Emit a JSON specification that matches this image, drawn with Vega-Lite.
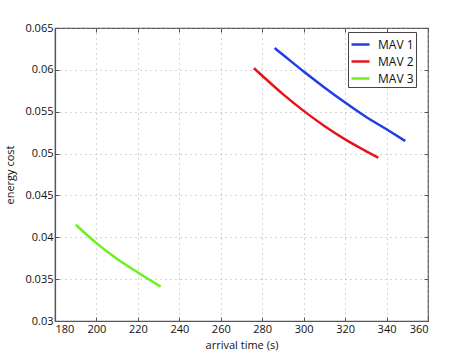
{
  "$schema": "https://vega.github.io/schema/vega-lite/v6.json",
  "width": 373,
  "height": 293,
  "autosize": "none",
  "padding": {"left": 55, "top": 28, "right": 46, "bottom": 34},
  "background": "white",
  "data": {
    "values": [
      {"t": 286, "c": 0.0626, "s": "MAV 1"},
      {"t": 290, "c": 0.0618, "s": "MAV 1"},
      {"t": 300, "c": 0.0598, "s": "MAV 1"},
      {"t": 310, "c": 0.0579, "s": "MAV 1"},
      {"t": 320, "c": 0.0561, "s": "MAV 1"},
      {"t": 330, "c": 0.0544, "s": "MAV 1"},
      {"t": 340, "c": 0.0529, "s": "MAV 1"},
      {"t": 349, "c": 0.0515, "s": "MAV 1"},
      {"t": 276, "c": 0.0602, "s": "MAV 2"},
      {"t": 280, "c": 0.0593, "s": "MAV 2"},
      {"t": 290, "c": 0.0571, "s": "MAV 2"},
      {"t": 300, "c": 0.0551, "s": "MAV 2"},
      {"t": 310, "c": 0.0533, "s": "MAV 2"},
      {"t": 320, "c": 0.0517, "s": "MAV 2"},
      {"t": 330, "c": 0.0503, "s": "MAV 2"},
      {"t": 336, "c": 0.0495, "s": "MAV 2"},
      {"t": 190, "c": 0.0415, "s": "MAV 3"},
      {"t": 200, "c": 0.0393, "s": "MAV 3"},
      {"t": 210, "c": 0.0374, "s": "MAV 3"},
      {"t": 220, "c": 0.0358, "s": "MAV 3"},
      {"t": 231, "c": 0.0341, "s": "MAV 3"}
    ]
  },
  "layer": [
    {
      "mark": {"type": "line", "strokeWidth": 2.5, "interpolate": "monotone"},
      "encoding": {
        "x": {
          "field": "t", "type": "quantitative",
          "scale": {"domain": [180, 360], "nice": false, "zero": false},
          "axis": {"title": "arrival time (s)", "values": [180, 200, 220, 240, 260, 280, 300, 320, 340, 360], "titlePadding": 5}
        },
        "y": {
          "field": "c", "type": "quantitative",
          "scale": {"domain": [0.03, 0.065], "nice": false, "zero": false},
          "axis": {"title": "energy cost", "values": [0.03, 0.035, 0.04, 0.045, 0.05, 0.055, 0.06, 0.065], "format": "~g", "titlePadding": 9}
        },
        "color": {
          "field": "s", "type": "nominal",
          "scale": {"domain": ["MAV 1", "MAV 2", "MAV 3"], "range": ["#1f3ee6", "#e6141a", "#6ef01e"]},
          "legend": {
            "title": null, "orient": "none", "legendX": 293, "legendY": 4,
            "symbolType": "stroke", "symbolStrokeWidth": 2.5, "symbolSize": 324,
            "strokeColor": "#444", "fillColor": "white", "padding": 2,
            "labelFontSize": 12, "labelFont": "Open Sans", "rowPadding": -6, "labelColor": "#111",
            "labelOffset": 7
          }
        }
      }
    },
    {
      "mark": {"type": "line", "strokeOpacity": 0},
      "encoding": {
        "x": {
          "field": "t", "type": "quantitative",
          "axis": {"orient": "top", "title": null, "labels": false, "grid": false, "domain": false, "values": [180, 200, 220, 240, 260, 280, 300, 320, 340, 360]}
        },
        "y": {
          "field": "c", "type": "quantitative",
          "axis": {"orient": "right", "title": null, "labels": false, "grid": false, "domain": false, "values": [0.03, 0.035, 0.04, 0.045, 0.05, 0.055, 0.06, 0.065]}
        },
        "detail": {"field": "s"}
      }
    }
  ],
  "resolve": {"axis": {"x": "independent", "y": "independent"}},
  "config": {
    "view": {"stroke": "#555", "strokeWidth": 1.2},
    "axis": {
      "domainColor": "#555", "domainWidth": 1.2,
      "tickColor": "#555", "tickSize": -4,
      "grid": true, "gridColor": "#aaa", "gridDash": [1, 4], "gridWidth": 1,
      "labelFont": "Open Sans", "labelFontSize": 11, "labelColor": "#111",
      "titleFont": "Open Sans", "titleFontSize": 11, "titleFontWeight": "normal", "titleColor": "#111",
      "labelPadding": 6
    }
  }
}
